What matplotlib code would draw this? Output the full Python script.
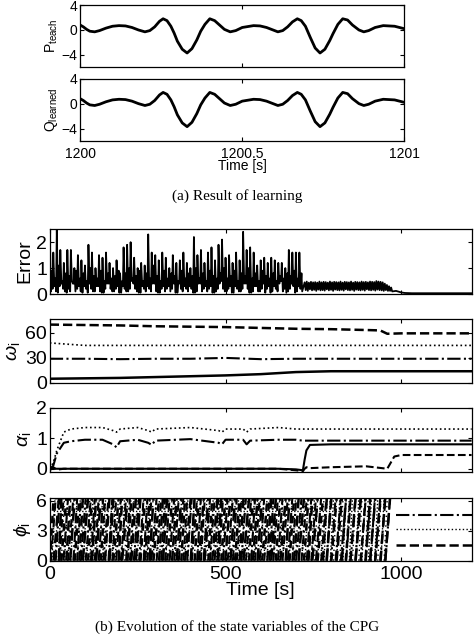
import matplotlib
matplotlib.use("Agg")
import matplotlib.pyplot as plt
import numpy as np

plt.rcParams['font.family'] = ['Liberation Sans', 'DejaVu Sans']
plt.rcParams['mathtext.fontset'] = 'custom'
plt.rcParams['mathtext.rm'] = 'Liberation Sans'
plt.rcParams['mathtext.it'] = 'Liberation Sans:italic'

# ---- (a) result of learning ----
t_a = [0.00,0.01,0.02,0.03,0.045,0.06,0.08,0.10,0.12,0.14,0.16,0.18,0.20,0.215,0.23,0.245,0.256,0.268,
       0.28,0.29,0.30,0.315,0.33,0.345,0.36,0.372,0.385,0.40,0.415,0.43,0.445,0.463,0.48,0.50,0.535,
       0.555,0.575,0.595,0.61,0.625,0.64,0.655,0.67,0.682,0.695,0.71,0.725,0.74,0.755,0.77,0.78,0.795,
       0.81,0.825,0.84,0.86,0.875,0.89,0.91,0.935,0.97,1.00]
p_teach = [0.8,0.5,0.1,-0.2,-0.3,-0.1,0.3,0.6,0.7,0.65,0.4,0.0,-0.3,-0.1,0.5,1.4,1.8,1.5,
           0.6,-0.5,-1.8,-3.1,-3.7,-3.0,-1.6,-0.2,0.9,1.8,1.5,0.8,0.1,-0.3,-0.1,0.4,0.7,
           0.65,0.4,0.0,-0.3,-0.1,0.5,1.3,1.8,1.5,0.6,-1.2,-2.9,-3.7,-3.1,-1.7,-0.6,0.9,
           1.8,1.6,0.8,0.0,-0.3,-0.1,0.4,0.7,0.6,0.2]
q_learned = [0.8,0.5,0.1,-0.2,-0.3,-0.1,0.3,0.6,0.7,0.65,0.4,0.0,-0.3,-0.1,0.5,1.4,1.8,1.5,
             0.6,-0.5,-1.8,-3.1,-3.7,-3.0,-1.6,-0.2,0.9,1.8,1.5,0.8,0.1,-0.3,-0.1,0.4,0.7,
             0.65,0.4,0.0,-0.3,-0.1,0.5,1.3,1.8,1.5,0.6,-1.2,-2.9,-3.7,-3.1,-1.7,-0.6,0.9,
             1.8,1.6,0.8,0.0,-0.3,-0.1,0.4,0.7,0.6,0.2]

# ---- (b) error ----
err_peaks = [2.5,1.6,2.5,1.7,1.2,1.7,1.7,1.0,1.5,1.3,1.1,1.9,1.6,1.0,1.5,1.4,1.6,1.2,1.0,1.3,
             0.8,1.8,1.9,2.0,1.4,1.0,1.2,1.1,2.3,1.6,1.5,1.3,1.6,1.4,1.0,1.5,1.2,1.3,1.6,1.2,
             1.0,2.2,1.5,1.7,1.2,1.6,1.8,1.3,1.9,2.1,1.4,1.5,1.2,1.6,1.3,2.4,1.7,1.8,1.6,1.1,
             1.3,1.4,1.2,1.4,1.3,1.2,1.2,1.0,1.7,1.6,1.6,1.6]
err_lows = [0.1,0.3,0.05,0.4,0.1,0.2,0.5,0.1,0.3,0.05,0.2,0.4,0.1,0.3,0.1,0.05,0.4,0.2,0.1,0.3,
            0.05,0.2,0.1,0.5,0.2,0.05,0.3,0.1,0.2,0.4,0.1,0.05,0.3,0.2,0.1,0.4,0.05,0.2,0.3,0.1,
            0.2,0.05,0.4,0.1,0.3,0.2,0.05,0.1,0.4,0.2,0.1,0.3,0.05,0.2,0.1,0.4,0.2,0.05,0.3,0.1,
            0.2,0.05,0.3,0.1,0.2,0.4,0.1,0.05,0.2,0.3,0.1,0.2]
err_mid = [0.9,0.6,1.1,0.5,0.8,0.7,0.4,0.9,0.6,0.8,0.5,1.0,0.7,0.6,0.9,0.5,0.8,0.6,0.7,0.9,
           0.5,0.8,1.0,0.6,0.7,0.9,0.5,0.8,0.6,1.1,0.7,0.5,0.9,0.6,0.8,0.7,0.5,0.9,0.6,0.8,
           0.7,1.0,0.6,0.8,0.5,0.9,0.7,0.6,0.8,1.0,0.6,0.7,0.9,0.5,0.8,0.7,1.0,0.6,0.8,0.5,
           0.9,0.7,0.6,0.8,0.5,0.7,0.6,0.8,0.7,0.9,0.6,0.8]
err2_peaks = [0.45,0.48,0.44,0.47,0.45,0.46,0.44,0.48,0.45,0.47,0.46,0.44,0.48,0.45,0.47,0.46,
              0.45,0.48,0.44,0.47,0.46,0.45,0.48,0.44,0.47,0.46,0.45,0.48,0.46,0.47,0.45,0.48,
              0.47,0.46,0.50,0.48,0.47,0.45,0.40,0.35,0.30,0.25]
err2_lows = [0.15,0.12,0.18,0.14,0.16,0.12,0.17,0.14,0.15,0.13,0.18,0.14,0.16,0.12,0.17,0.15,
             0.14,0.16,0.13,0.18,0.15,0.14,0.16,0.12,0.17,0.15,0.14,0.16,0.13,0.18,0.15,0.14,
             0.16,0.13,0.17,0.15,0.14,0.12,0.15,0.12,0.12,0.1]
err_tail_t = [985, 1000, 1010, 1030, 1200]
err_tail_v = [0.12, 0.06, 0.04, 0.03, 0.03]

# ---- omega ----
om_t = [0,100,200,300,400,500,600,700,800,900,940,960,1000,1100,1200]
om_dash = [70,69.5,69,68,67.5,67,66,65,64.5,63.5,63,59,59.5,59.5,59.5]
om_dot = [48,45,45,45,45,45,45,45,45,45,45,45,45,45,45]
om_dashdot = [29,29,28.5,29,29,30,28.5,29,29,29,29,29,29,29,29]
om_solid = [5,5.5,6,7,8,9,10.5,13,14,14,14,14,14,14,14]

# ---- alpha ----
al_t = [0,10,20,40,60,100,150,180,190,200,250,280,290,300,400,480,490,500,550,560,570,650,700,720,725,730,740,800,900,960,970,980,1000,1100,1200]
al_dot = [0,0.2,0.6,1.2,1.3,1.35,1.35,1.25,1.2,1.3,1.35,1.25,1.2,1.3,1.35,1.25,1.2,1.3,1.3,1.2,1.3,1.35,1.3,1.3,1.3,1.3,1.3,1.3,1.3,1.3,1.3,1.3,1.3,1.3,1.3]
al_dashdot = [0,0.1,0.5,0.85,0.9,0.95,0.95,0.8,0.7,0.9,0.95,0.85,0.78,0.92,0.97,0.85,0.8,0.95,0.95,0.8,0.92,0.95,0.95,0.92,0.92,0.92,0.92,0.92,0.92,0.92,0.92,0.92,0.92,0.92,0.92]
al_solid = [0,0,0,0,0,0,0,0,0,0,0,0,0,0,0,0,0,0,0,0,0,0,-0.02,-0.05,0.3,0.6,0.78,0.8,0.8,0.8,0.8,0.8,0.8,0.8,0.8]
al_dash = [-0.05,0.05,-0.03,0.0,0.0,0.0,0.0,0.0,0.0,0.0,0.0,0.0,0.0,0.0,0.0,0.0,0.0,0.0,0.0,0.0,0.0,0.0,-0.05,-0.08,0.0,0.05,0.02,0.05,0.08,0.0,0.2,0.4,0.45,0.45,0.45]

# ---- phi: wrap times (phase goes 0 -> 2pi between consecutive times) ----
ph_wrap_dash = [0,11,26,33,47,58,71,84,94,109,120,132,145,157,170,181,196,206,221,232,245,258,271,284,
                295,311,322,334,348,361,374,385,401,412,424,438,451,462,477,488,499,514,527,540,551,
                567,578,591,604,619,630,643,656,671,682,695,708,723,736,747,762,777,788,801,816,
                831,842,855,870,885,898,911,926,941,954,968]
ph_wrap_dashdot = [3,17,28,39,52,67,78,89,102,117,128,139,152,167,178,189,202,217,228,239,254,267,
                   278,289,304,317,328,341,354,367,380,391,404,419,430,441,456,469,480,493,506,521,
                   532,545,558,573,584,597,610,625,636,649,662,677,690,701,716,731,744,757,772,
                   787,800,813,828,843,856,869,884,899,912,925,940,955,968]
ph_wrap_dot = [6,15,24,33,42,51,60,69,78,87,96,105,114,123,132,141,150,159,168,177,186,195,204,
               213,222,231,240,249,258,267,276,285,294,303,312,321,330,339,348,357,366,375,384,
               393,402,411,420,429,438,447,456,465,474,483,492,501,510,519,528,537,546,555,564,
               573,582,591,600,609,618,627,636,645,654,663,672,681,690,699,708,717,726,735,744,
               753,762,771,780,789,798,807,816,825,834,843,852,861,870,879,888,897,906,915,924,933,942,951,960]
ph_final_t = [985, 1200]
ph_final_dash = 1.6
ph_final_dot = 3.2
ph_final_dashdot = 4.6

fig = plt.figure(figsize=(4.74, 6.35), dpi=100)

def style(ax, fs):
    ax.tick_params(direction='in', labelsize=fs, length=3, top=True, right=True, pad=2)
    ax.tick_params(axis='x', pad=4)
    for s in ax.spines.values():
        s.set_linewidth(0.9)

ta = [1200 + t for t in t_a]
for bottom, vals, lab in [(0.894, p_teach, r'P$_{\rm teach}$'), (0.778, q_learned, r'Q$_{\rm learned}$')]:
    ax = fig.add_axes([0.169, bottom, 0.684, 0.098])
    ax.plot(ta, vals, color='black', lw=2)
    ax.set_xlim(1200, 1201)
    ax.set_ylim(-6, 4)
    ax.set_yticks([-4, 0, 4])
    ax.set_yticklabels(['\u22124', '0', '4'])
    ax.set_xticks([1200, 1200.5, 1201])
    ax.set_ylabel(lab, fontsize=10, labelpad=1)
    style(ax, 10)
    if bottom > 0.8:
        ax.set_xticklabels([])
    else:
        ax.set_xticklabels(['1200', '1200.5', '1201'])
        ax.set_xlabel('Time [s]', fontsize=10, labelpad=-1)
fig.text(0.5, 0.685, '(a) Result of learning', ha='center', fontsize=11, family='Liberation Serif')

L, W = 0.105, 0.89
# error
ax = fig.add_axes([L, 0.537, W, 0.102])
et, ev = [], []
for i, (p, lo, m) in enumerate(zip(err_peaks, err_lows, err_mid)):
    et += [i * 10, i * 10 + 3, i * 10 + 6, i * 10 + 8]; ev += [p, lo, m, err_lows[-1 - i]]
for i, (p, lo) in enumerate(zip(err2_peaks, err2_lows)):
    et += [725 + i * 6, 728 + i * 6]; ev += [p, lo]
et += err_tail_t; ev += err_tail_v
ax.plot(et, ev, color='black', lw=1.3)
ax.set_ylim(0, 2.5); ax.set_yticks([0, 1, 2])
ax.set_ylabel('Error', fontsize=14, labelpad=2)
# omega
ax2 = fig.add_axes([L, 0.397, W, 0.101])
ax2.plot(om_t, om_dash, 'k--', lw=1.8)
ax2.plot(om_t, om_dot, 'k:', lw=1.2)
ax2.plot(om_t, om_dashdot, 'k-.', lw=1.5)
ax2.plot(om_t, om_solid, 'k-', lw=1.8)
ax2.set_ylim(0, 77); ax2.set_yticks([0, 30, 60])
ax2.set_ylabel(r'$\omega_{\rm i}$', fontsize=14, labelpad=2)
# alpha
ax3 = fig.add_axes([L, 0.257, W, 0.101])
ax3.plot(al_t, al_dot, 'k:', lw=1.2)
ax3.plot(al_t, al_dashdot, 'k-.', lw=1.5)
ax3.plot(al_t, al_solid, 'k-', lw=1.5)
ax3.plot(al_t, al_dash, 'k--', lw=1.5)
ax3.set_ylim(-0.1, 2); ax3.set_yticks([0, 1, 2])
ax3.set_ylabel(r'$\alpha_{\rm i}$', fontsize=14, labelpad=2)
# phi
ax4 = fig.add_axes([L, 0.117, W, 0.099])
for wraps, ls, lw, fin in [(ph_wrap_dot, ':', 1.0, ph_final_dot),
                           (ph_wrap_dashdot, '-.', 1.5, ph_final_dashdot),
                           (ph_wrap_dash, '--', 1.8, ph_final_dash)]:
    for k, (a, b) in enumerate(zip(wraps[:-1], wraps[1:])):
        if ls == ':':
            dsh = (1, 1.5 + k % 2)
        elif ls == '--':
            dsh = (3 + k % 3, 2 + k % 2)
        else:
            dsh = (4 + k % 2, 1.5, 1, 1.5)
        ax4.plot([a, b], [0, 6.28], color='black', lw=lw, dashes=dsh)
    ax4.plot(ph_final_t, [fin, fin], color='black', ls=ls, lw=lw)
ax4.set_ylim(0, 6.3); ax4.set_yticks([0, 3, 6])
ax4.set_ylabel(r'$\phi_{\rm i}$', fontsize=14, labelpad=2)
for a in [ax, ax2, ax3, ax4]:
    a.set_xlim(0, 1200)
    a.set_xticks([0, 500, 1000])
    style(a, 14)
    if a is not ax4:
        a.set_xticklabels([])
ax4.set_xlabel('Time [s]', fontsize=14, labelpad=-1)
fig.text(0.5, 0.006, '(b) Evolution of the state variables of the CPG', ha='center', fontsize=11, family='Liberation Serif')
fig.savefig('out.png', dpi=100)
